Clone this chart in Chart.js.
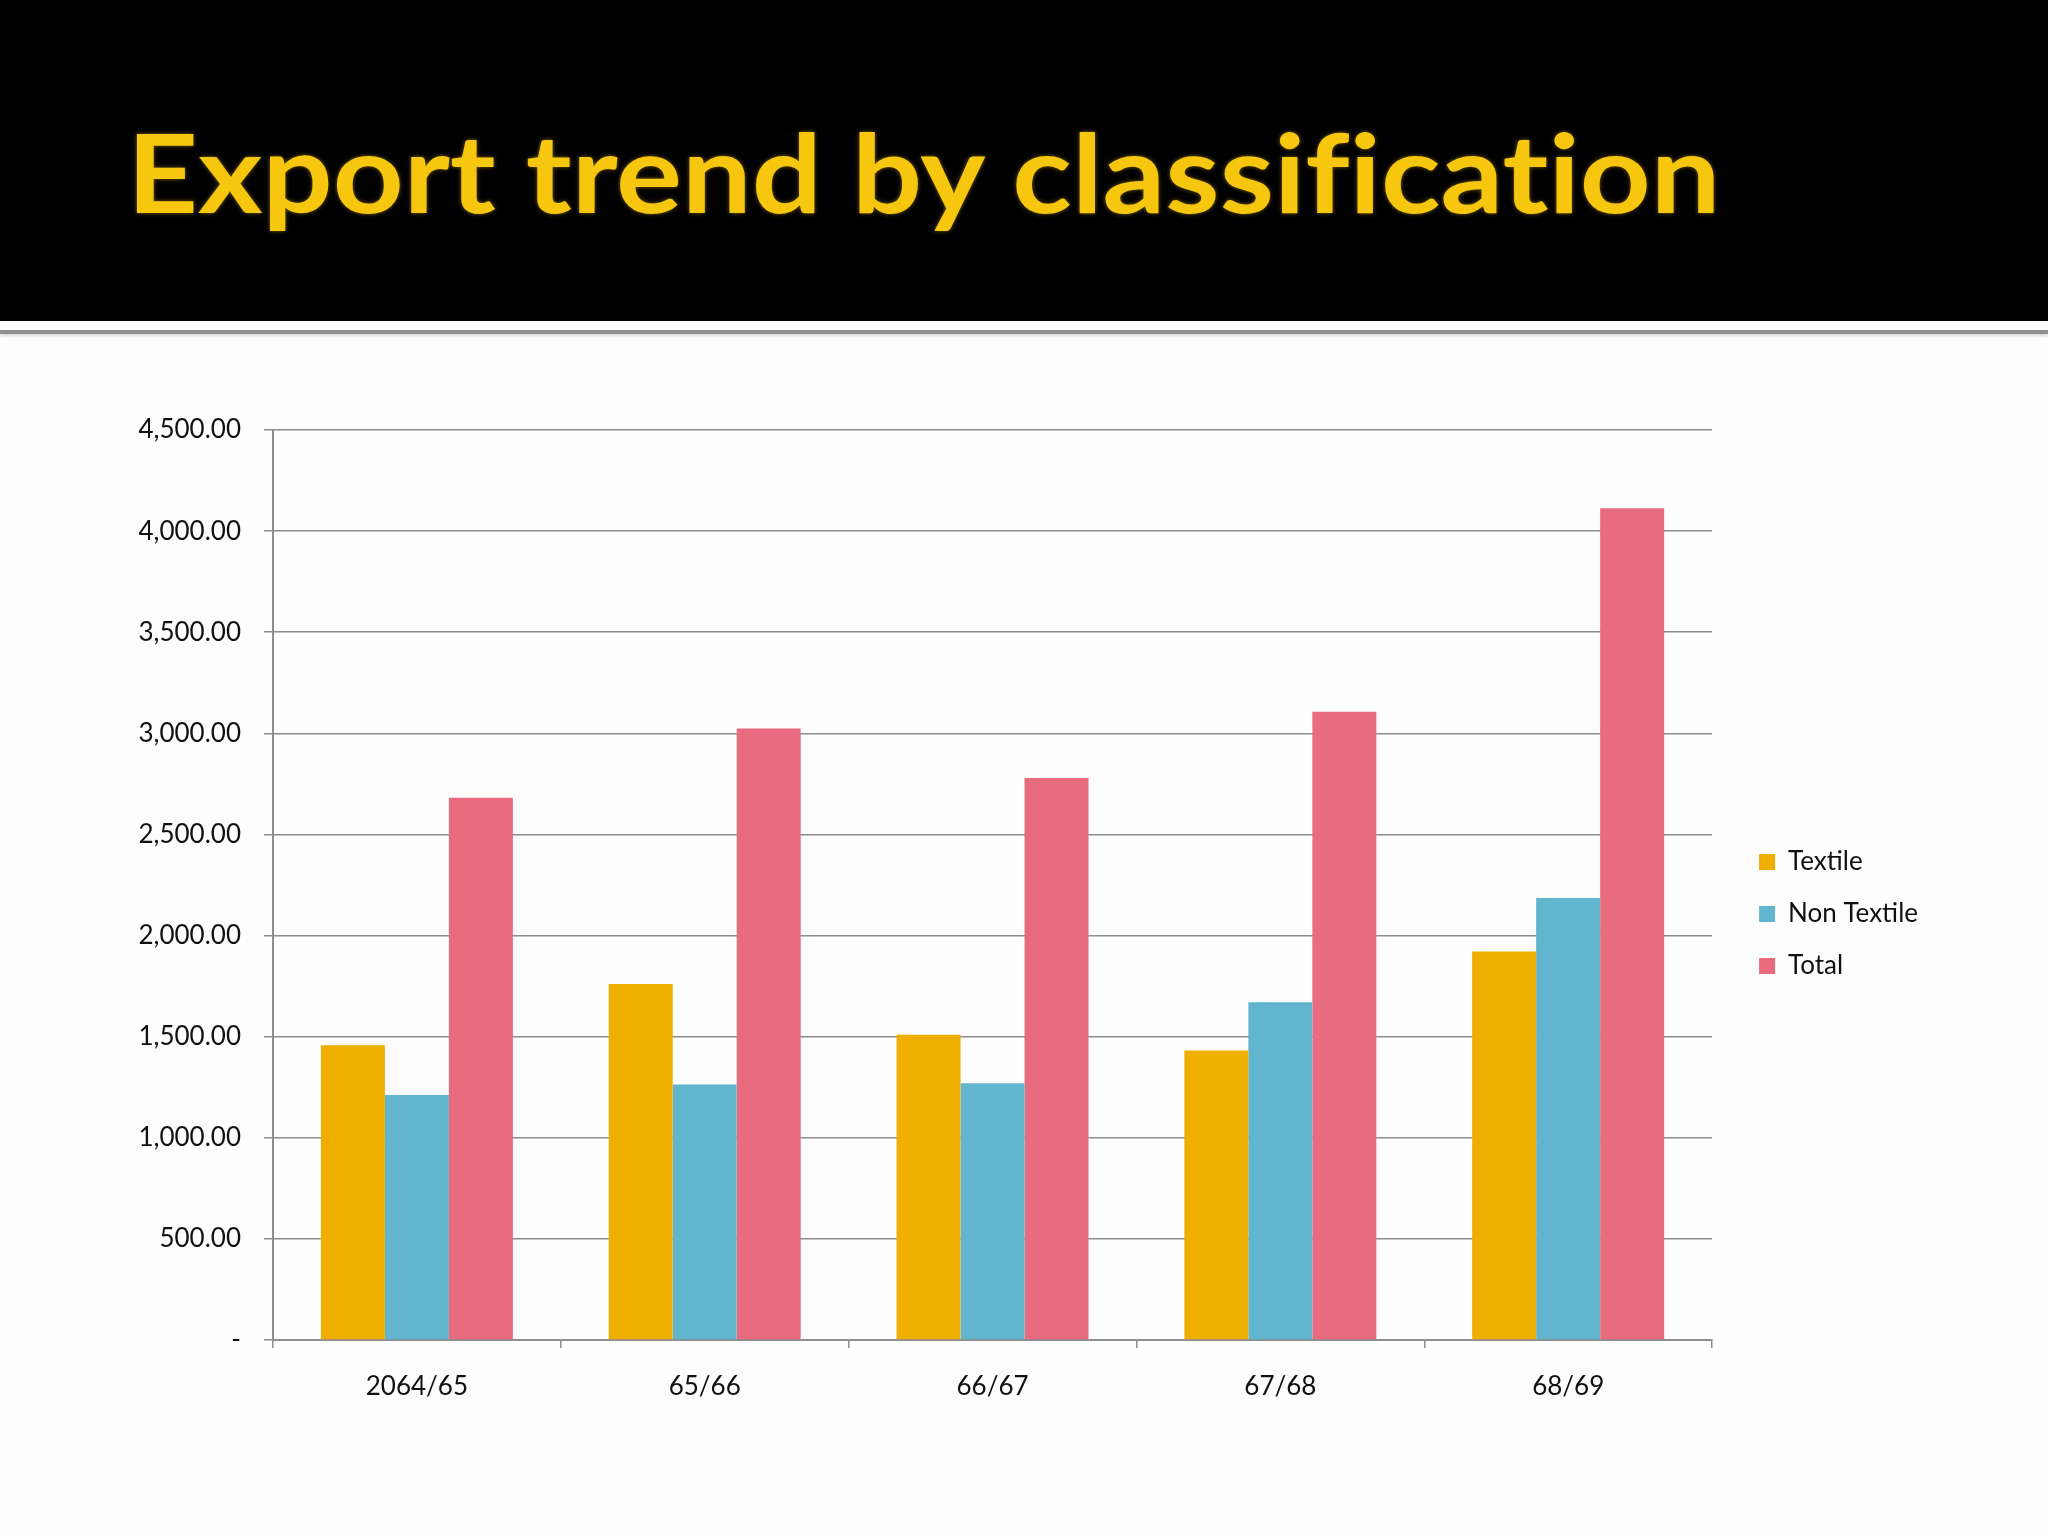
<!DOCTYPE html>
<html>
<head>
<meta charset="utf-8">
<title>Export trend by classification</title>
<script src="https://cdn.jsdelivr.net/npm/chart.js@4.4.1/dist/chart.umd.min.js"></script>
<style>
  html, body { margin: 0; padding: 0; background: #fdfdfd; }
  body { width: 2048px; height: 1536px; position: relative; overflow: hidden; font-family: Lato, "Open Sans", sans-serif; }
  #bar { position: absolute; left: 0; top: 0; width: 2048px; height: 321px; background: #000; }
  #rule { position: absolute; left: 0; top: 330px; width: 2048px; height: 4px; background: #8f8f8f; box-shadow: 0 2px 3px rgba(0,0,0,0.15); }
  #title { position: absolute; left: 127px; top: 104px; font-size: 110px; font-weight: 700; color: #f6c70e;
           font-variant-ligatures: none;
           white-space: nowrap; transform-origin: 0 0; text-shadow: 0 0 4px rgba(246,199,14,0.5); }
  #wrap { position: absolute; left: 0; top: 340px; width: 2048px; height: 1196px; }
</style>
</head>
<body>
<div id="bar"></div>
<div id="rule"></div>
<div id="title">Export trend by classification</div>
<div id="wrap"><canvas id="chart" width="2048" height="1196"></canvas></div>
<script>
  // data
  const years = ['2064/65', '65/66', '66/67', '67/68', '68/69'];
  const textile = [1457, 1760, 1509, 1431, 1921];
  const nonTextile = [1212, 1264, 1270, 1670, 2186];
  const total = [2682, 3024, 2779, 3107, 4113];

  // squeeze the title to the width it has in the slide
  const t = document.getElementById('title');
  t.style.transform = 'scaleX(' + (1594 / t.offsetWidth) + ')';

  const grey = '#8e8e8e';
  const ctx = document.getElementById('chart').getContext('2d');
  const chart = new Chart(ctx, {
    type: 'bar',
    data: {
      labels: years,
      datasets: [
        { label: 'Textile', data: textile, backgroundColor: '#efaf00' },
        { label: 'Non Textile', data: nonTextile, backgroundColor: '#62b5ce' },
        { label: 'Total', data: total, backgroundColor: '#e86c7e' }
      ]
    },
    options: {
      responsive: false,
      animation: false,
      maintainAspectRatio: false,
      layout: { padding: { left: 0, right: 120, top: 90, bottom: 138 } },
      datasets: { bar: { categoryPercentage: 0.667, barPercentage: 1 } },
      plugins: {
        tooltip: { enabled: false },
        legend: {
          position: 'right',
          align: 'center',
          labels: {
            boxWidth: 16, boxHeight: 16, padding: 26,
            color: '#111',
            font: { family: 'Lato', size: 26 }
          }
        }
      },
      scales: {
        x: {
          afterFit: s => { s.height = 58; },
          grid: { offset: true, drawOnChartArea: false, drawTicks: true, tickLength: 8, color: grey, lineWidth: 1.5 },
          border: { color: grey, width: 2 },
          ticks: { padding: 23, color: '#111', font: { family: 'Lato', size: 26 } }
        },
        y: {
          min: 0, max: 4500,
          afterFit: s => { s.width = 273; },
          grid: { color: grey, lineWidth: 1.5, tickLength: 9 },
          border: { color: grey, width: 2 },
          ticks: {
            stepSize: 500, padding: 23, color: '#111',
            font: { family: 'Lato', size: 26 },
            callback: v => v === 0 ? '-' : v.toLocaleString('en-US', { minimumFractionDigits: 2, maximumFractionDigits: 2 })
          }
        },
        // empty strip between the plot and the legend
        gap: {
          position: 'right', min: 0, max: 1,
          afterFit: s => { s.width = 21; },
          grid: { display: false },
          border: { display: false },
          ticks: { display: false }
        }
      }
    }
  });
</script>
</body>
</html>
